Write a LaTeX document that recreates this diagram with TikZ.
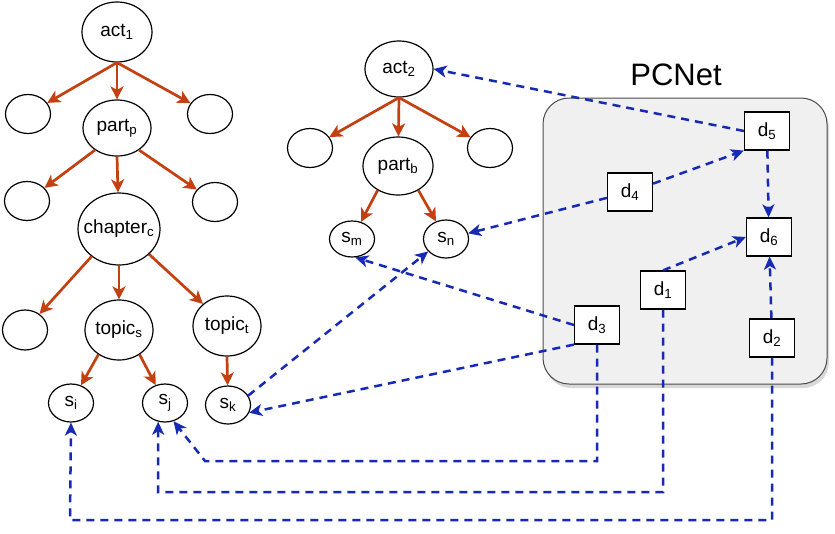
\documentclass[tikz,border=0pt]{standalone}
\usepackage{fontspec}
\setmainfont{Liberation Sans}
\usetikzlibrary{shapes.geometric,arrows.meta,shadows}
\definecolor{treered}{RGB}{196,64,16}
\definecolor{linkblue}{RGB}{22,42,180}
\newcommand{\tx}[1]{\makebox[0pt]{#1}}
\begin{document}
\begin{tikzpicture}[x=1pt,y=-1pt,
        font=\fontsize{19}{22}\selectfont,
        circ/.style={draw=black,ellipse,line width=1.2pt,inner sep=0pt,minimum width=68pt,minimum height=58pt},
        blank/.style={circ,minimum width=45pt,minimum height=39pt},
        sent/.style={circ,minimum width=45pt,minimum height=38pt},
        dbox/.style={draw=black,rectangle,line width=1.2pt,fill=white,minimum width=45pt,minimum height=38pt,inner sep=0pt},
        tree/.style={draw=treered,line width=2.7pt,-{Stealth[length=13pt,width=13pt,inset=3.5pt]}},
        link/.style={draw=linkblue,line width=2.5pt,dash pattern=on 8pt off 6pt,-{Stealth[length=13pt,width=12pt,inset=3.5pt]}},
        pcbox/.style={draw=black!70,rectangle,rounded corners=26pt,line width=1pt,fill=gray!12,minimum width=284pt,minimum height=286pt,
          drop shadow={shadow xshift=2pt,shadow yshift=-4pt,fill=black!30,opacity=.5}}
      ]
      \useasboundingbox (0,0) rectangle (835,533);
      % PCNet box
      \node[pcbox] (pcnet) at (685,241) {};
      \node[font=\fontsize{31}{36}\selectfont] (pcnetlabel) at (676,75) {PCNet};
      % left tree
      \node[circ,minimum width=70pt,minimum height=60pt] (act1) at (117,32) {\tx{act\textsubscript{1}}};
      \node[blank] (l1) at (28,114) {};
      \node[blank] (r1) at (210,114) {};
      \node[circ,minimum height=56pt] (partp) at (117,128) {\tx{part\textsubscript{p}}};
      \node[blank] (l2) at (27,201) {};
      \node[blank] (r2) at (215,202) {};
      \node[circ,minimum width=82pt,minimum height=72pt] (chapc) at (119,229) {\tx{chapter\textsubscript{c}}};
      \node[blank,minimum height=40pt] (l3) at (25,330) {};
      \node[circ,minimum height=60pt] (topics) at (119,330) {\tx{topic\textsubscript{s}}};
      \node[circ,minimum height=60pt] (topict) at (227,326) {\tx{topic\textsubscript{t}}};
      \node[sent] (si) at (71,403) {\tx{s\textsubscript{i}}};
      \node[sent] (sj) at (165,403) {\tx{s\textsubscript{j}}};
      \node[sent] (sk) at (228,405) {\tx{s\textsubscript{k}}};
      % middle tree
      \node[circ,minimum height=56pt] (act2) at (399,69) {\tx{act\textsubscript{2}}};
      \node[blank] (l4) at (310,148) {};
      \node[blank] (r4) at (490,148) {};
      \node[circ,minimum width=70pt] (partb) at (398,166) {\tx{part\textsubscript{b}}};
      \node[sent,minimum height=36pt] (sm) at (352,239) {\tx{s\textsubscript{m}}};
      \node[sent] (sn) at (446,239) {\tx{s\textsubscript{n}}};
      % PCNet nodes
      \node[dbox] (d5) at (767,131) {d\textsubscript{5}};
      \node[dbox] (d4) at (630,192) {d\textsubscript{4}};
      \node[dbox] (d6) at (769,237) {d\textsubscript{6}};
      \node[dbox] (d1) at (663,290) {d\textsubscript{1}};
      \node[dbox] (d3) at (597,325) {d\textsubscript{3}};
      \node[dbox] (d2) at (772,338) {d\textsubscript{2}};
      % tree edges
      \foreach \c in {l1,partp,r1} \draw[tree] (act1.south) -- (\c);
      \draw[tree] (partp.-135) -- (l2);
      \draw[tree] (partp.south) -- (chapc);
      \draw[tree] (partp.-45) -- (r2);
      \draw[tree] (chapc.-135) -- (l3);
      \draw[tree] (chapc.south) -- (topics);
      \draw[tree] (chapc.-40) -- (topict);
      \draw[tree] (topics.-130) -- (si);
      \draw[tree] (topics.-50) -- (sj);
      \draw[tree] (topict.south) -- (sk);
      \foreach \c in {l4,partb,r4} \draw[tree] (act2.south) -- (\c);
      \draw[tree] (partb.-130) -- (sm);
      \draw[tree] (partb.-50) -- (sn);
      % links
      \coordinate (c3) at (205,461);
      \coordinate (c1) at (158,492);
      \coordinate (c2) at (70,520);
      \draw[link] (d5.west) -- (act2.east);
      \draw[link] (d4) -- (d5.south west);
      \draw[link] (d4) -- (sn);
      \draw[link] (d5) -- (d6);
      \draw[link] (d1.north) -- (d6.west);
      \draw[link] (d2) -- (d6);
      \draw[link] (d3.west) -- (sm.-80);
      \draw[link] (sk.25) -- (sn.-145);
      \draw[link] (d3.south west) -- (sk.-20);
      \draw[link] (d3.south) |- (c3) -- (sj.-65);
      \draw[link] (d1.south) |- (c1) -- (sj.-110);
      \draw[link] (d2.south) |- (c2) -- (si.south);
    \end{tikzpicture}
\end{document}
